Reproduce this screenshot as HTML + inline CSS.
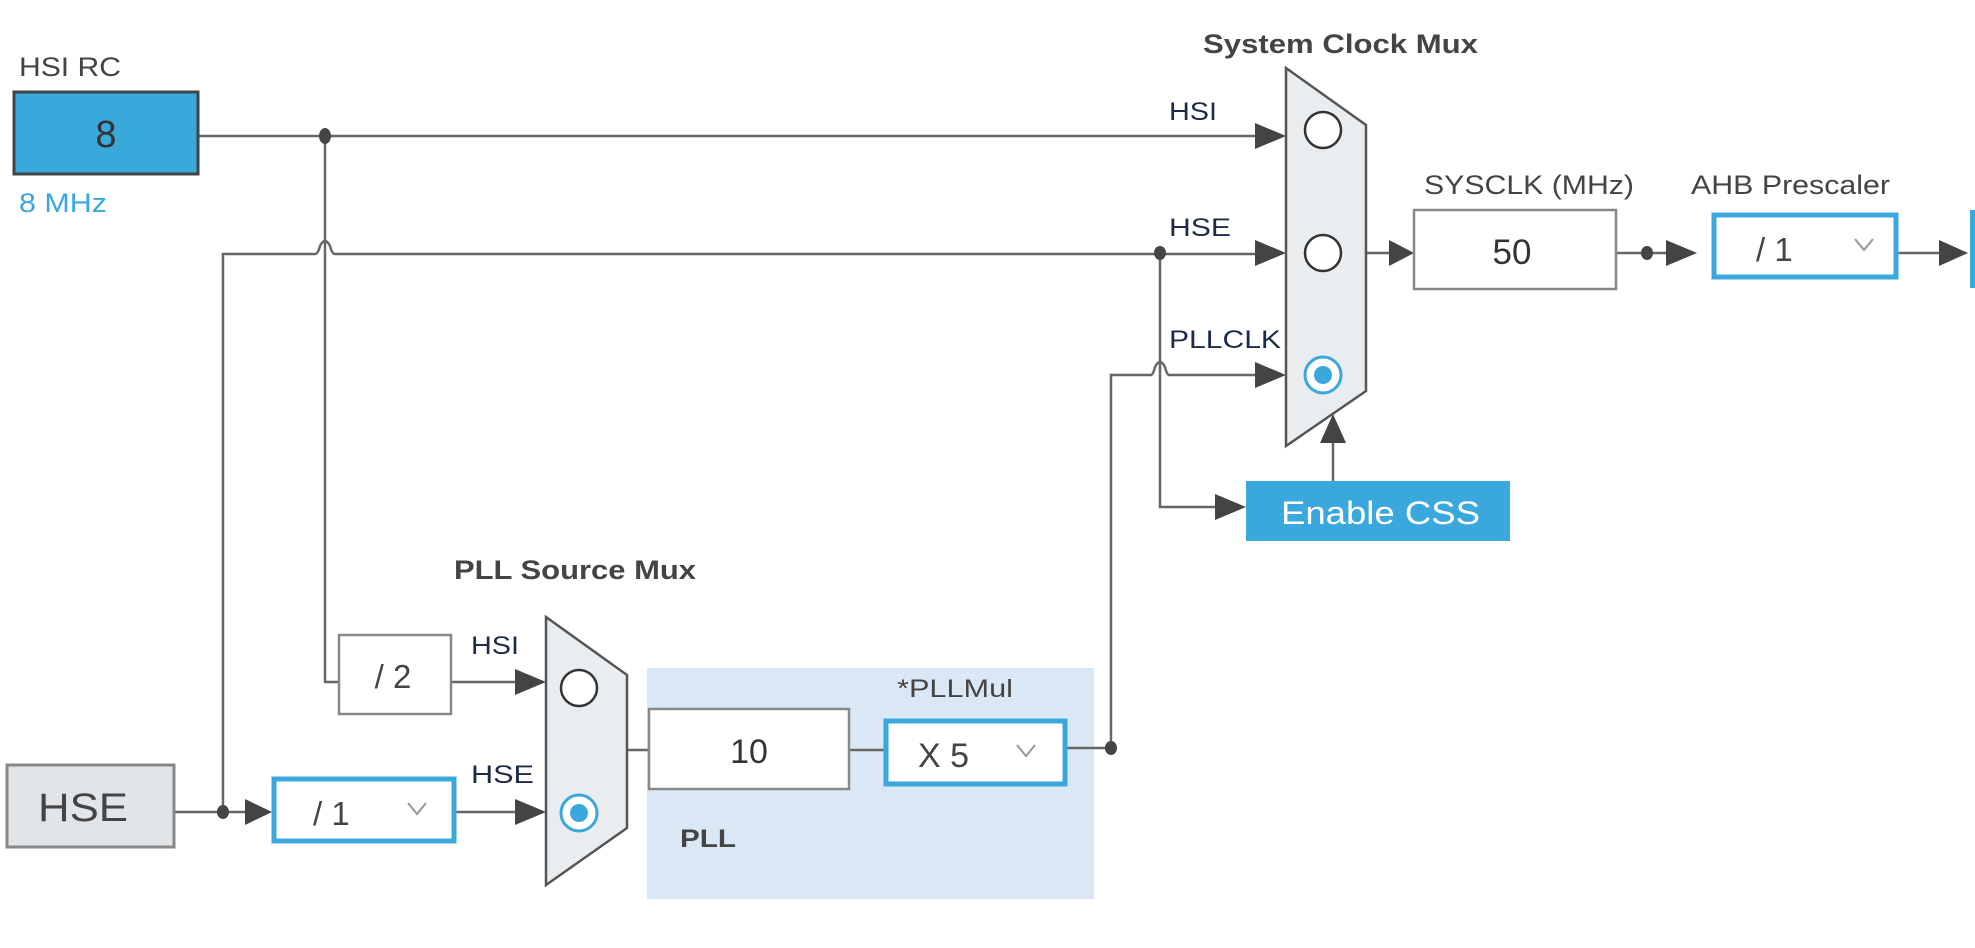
<!DOCTYPE html>
<html><head><meta charset="utf-8"><style>
html,body{margin:0;padding:0;background:#fff;}
svg{display:block;font-family:"Liberation Sans",Arial,sans-serif;}
</style></head><body>
<svg width="1975" height="948" viewBox="0 0 1975 948" xmlns="http://www.w3.org/2000/svg">
<rect x="647" y="668" width="447" height="231" fill="#dae8f5"/>

<g fill="none" stroke="#666" stroke-width="2.5">
<path d="M198 136 H1258"/>
<path d="M325 136 V682 H339"/>
<path d="M223 812 V254 H315 Q318 254 320 246 Q325 236 330 246 Q332 254 335 254 H1258"/>
<path d="M1160 253 V507 H1218"/>
<path d="M1111 748 V375 H1151 Q1153 375 1155 367 Q1160 357 1165 367 Q1167 375 1169 375 H1258"/>
<path d="M174 812 H245"/>
<path d="M451 682 H518"/>
<path d="M456 812 H518"/>
<path d="M627 750 H649"/>
<path d="M849 750 H884"/>
<path d="M1067 748 H1111"/>
<path d="M1366 253 H1390"/>
<path d="M1616 253 H1670"/>
<path d="M1897 253 H1945"/>
<path d="M1333 481 V440"/>
</g>

<g fill="#444">
<polygon points="1286,136 1255,123 1255,149"/>
<polygon points="1286,253 1255,240 1255,266"/>
<polygon points="1286,375 1255,362 1255,388"/>
<polygon points="1246,507 1215,494 1215,520"/>
<polygon points="1414,253 1389,240 1389,266"/>
<polygon points="1697,253 1666,240 1666,266"/>
<polygon points="1968,253 1939,240 1939,266"/>
<polygon points="1333,414 1320,443 1346,443"/>
<polygon points="272,812 245,799 245,825"/>
<polygon points="546,682 515,669 515,695"/>
<polygon points="546,812 515,799 515,825"/>
<ellipse cx="325" cy="136" rx="6" ry="8"/>
<ellipse cx="1160" cy="253" rx="6" ry="7"/>
<ellipse cx="1647" cy="253" rx="6" ry="7"/>
<ellipse cx="223" cy="812" rx="6" ry="7"/>
<ellipse cx="1111" cy="748" rx="6" ry="7"/>
</g>

<text x="19" y="76" font-size="27" fill="#444" textLength="102" lengthAdjust="spacingAndGlyphs">HSI RC</text>
<rect x="14" y="92" width="184" height="82" fill="#39a9dc" stroke="#444" stroke-width="3"/>
<text x="106" y="147" font-size="38" fill="#333" text-anchor="middle">8</text>
<text x="19" y="212" font-size="27" fill="#3aa8dd" textLength="88" lengthAdjust="spacingAndGlyphs">8 MHz</text>

<text x="1203" y="53" font-size="27" font-weight="bold" fill="#444" textLength="275" lengthAdjust="spacingAndGlyphs">System Clock Mux</text>
<polygon points="1286,68 1366,125 1366,391 1286,446" fill="#e9edf0" stroke="#555" stroke-width="2.5"/>
<circle cx="1323" cy="130" r="18" fill="#fff" stroke="#333" stroke-width="2.5"/>
<circle cx="1323" cy="253" r="18" fill="#fff" stroke="#333" stroke-width="2.5"/>
<circle cx="1323" cy="375" r="18" fill="#fff" stroke="#3aa8dd" stroke-width="3"/>
<circle cx="1323" cy="375" r="9" fill="#3aa8dd"/>
<text x="1169" y="120" font-size="25" fill="#1c2b4a" textLength="48" lengthAdjust="spacingAndGlyphs">HSI</text>
<text x="1169" y="236" font-size="25" fill="#1c2b4a" textLength="62" lengthAdjust="spacingAndGlyphs">HSE</text>
<text x="1169" y="348" font-size="25" fill="#1c2b4a" textLength="112" lengthAdjust="spacingAndGlyphs">PLLCLK</text>

<rect x="1246" y="481" width="264" height="60" fill="#3aa8dd"/>
<text x="1281" y="524" font-size="32" fill="#fff" textLength="199" lengthAdjust="spacingAndGlyphs">Enable CSS</text>

<text x="1424" y="194" font-size="27" fill="#444" textLength="210" lengthAdjust="spacingAndGlyphs">SYSCLK (MHz)</text>
<rect x="1414" y="210" width="202" height="79" fill="#fff" stroke="#888" stroke-width="2.5"/>
<text x="1512" y="264" font-size="35" fill="#333" text-anchor="middle">50</text>

<text x="1691" y="194" font-size="27" fill="#444" textLength="199" lengthAdjust="spacingAndGlyphs">AHB Prescaler</text>
<rect x="1714" y="215" width="182" height="62" fill="#fff" stroke="#3aa8dd" stroke-width="5"/>
<text x="1756" y="261" font-size="33" fill="#444">/ 1</text>
<path d="M1855 239 L1864 250 L1873 239" fill="none" stroke="#999" stroke-width="2"/>
<rect x="1970" y="210" width="5" height="78" fill="#3aa8dd"/>

<text x="454" y="579" font-size="27" font-weight="bold" fill="#444" textLength="242" lengthAdjust="spacingAndGlyphs">PLL Source Mux</text>
<rect x="339" y="635" width="112" height="79" fill="#fff" stroke="#888" stroke-width="2.5"/>
<text x="393" y="688" font-size="33" fill="#444" text-anchor="middle">/ 2</text>
<text x="471" y="654" font-size="25" fill="#1c2b4a" textLength="48" lengthAdjust="spacingAndGlyphs">HSI</text>
<text x="471" y="783" font-size="25" fill="#1c2b4a" textLength="63" lengthAdjust="spacingAndGlyphs">HSE</text>
<polygon points="546,617 627,675 627,828 546,885" fill="#e9edf0" stroke="#555" stroke-width="2.5"/>
<circle cx="579" cy="688" r="18" fill="#fff" stroke="#333" stroke-width="2.5"/>
<circle cx="579" cy="813" r="18" fill="#fff" stroke="#3aa8dd" stroke-width="3"/>
<circle cx="579" cy="813" r="9" fill="#3aa8dd"/>

<rect x="7" y="765" width="167" height="82" fill="#e2e5e8" stroke="#888" stroke-width="3"/>
<text x="38" y="821" font-size="40" fill="#444" textLength="90" lengthAdjust="spacingAndGlyphs">HSE</text>
<rect x="274" y="779" width="180" height="62" fill="#fff" stroke="#3aa8dd" stroke-width="5"/>
<text x="313" y="825" font-size="33" fill="#444">/ 1</text>
<path d="M408 803 L417 814 L426 803" fill="none" stroke="#999" stroke-width="2"/>

<rect x="649" y="709" width="200" height="80" fill="#fff" stroke="#888" stroke-width="2.5"/>
<text x="749" y="763" font-size="34" fill="#333" text-anchor="middle">10</text>
<text x="897" y="697" font-size="25" fill="#444" textLength="116" lengthAdjust="spacingAndGlyphs">*PLLMul</text>
<rect x="886" y="721" width="179" height="63" fill="#fff" stroke="#3aa8dd" stroke-width="5"/>
<text x="918" y="767" font-size="34" fill="#444">X 5</text>
<path d="M1017 745 L1026 756 L1035 745" fill="none" stroke="#999" stroke-width="2"/>
<text x="680" y="847" font-size="25" font-weight="bold" fill="#444" textLength="56" lengthAdjust="spacingAndGlyphs">PLL</text>
</svg>
</body></html>
